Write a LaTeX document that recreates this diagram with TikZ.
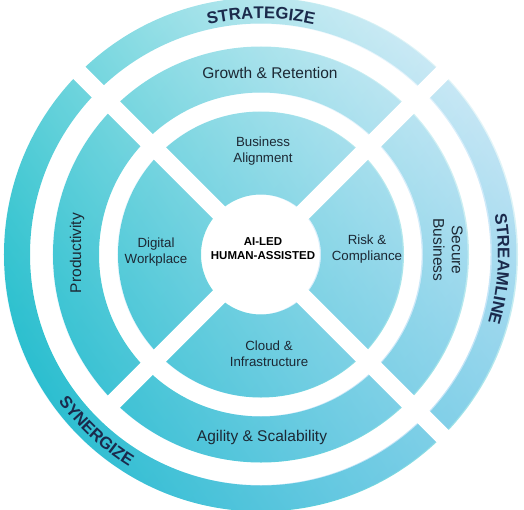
\documentclass[tikz,border=0pt]{standalone}
\usepackage{fontspec}
\setmainfont{Liberation Sans}
\usetikzlibrary{decorations.text,fadings}
\definecolor{ringteal}{RGB}{34,192,203}
\definecolor{ringmid}{RGB}{86,201,215}
\definecolor{ringlight}{RGB}{228,245,248}
\definecolor{ringblue}{RGB}{100,185,235}
\definecolor{labelink}{RGB}{28,40,52}
\definecolor{outerink}{RGB}{27,42,76}
\newcommand\ringfont{\fontsize{16.8}{18}\selectfont\bfseries}

\begin{document}
\begin{tikzpicture}[x=1pt,y=1pt,
    inner label/.style={text=labelink,font=\fontsize{13.3}{16}\selectfont,align=center},
    mid label/.style={text=labelink,font=\fontsize{15.5}{18.5}\selectfont,align=center},
    gap/.style={white,line width=17pt},
    ring text/.style={decorate,decoration={text along path,text align=center,text color=outerink}}]
    \def\rc{60}\def\ra{143}\def\rb{162}\def\rB{208}\def\rd{231}\def\rD{257}
    \def\rings{(0,0) circle (\rD) circle (\rd) circle (\rB) circle (\rb) circle (\ra) circle (\rc)}
    \useasboundingbox (-261,-254.5) rectangle (263,254.5);
    % three rings in one shading, blue tint to the lower right
    \shade[even odd rule,left color=ringteal,middle color=ringmid,right color=ringlight,shading angle=125] \rings;
    \fill[even odd rule,ringblue,fill opacity=0.42,path fading=west,fading angle=-45] \rings;
    % white cuts along the diagonals
    \foreach \a in {45,135,315} \draw[gap] (0,0) -- ({\a}:{\rD+6});
    \draw[gap] (0,0) -- (225:220);
    % outer ring words
    \path[ring text,decoration={text={|\ringfont|STRATEGIZE}}] (180:236) arc (180:0:236);
    \path[ring text,decoration={text={|\ringfont|STREAMLINE}}] (86.5:237) arc (86.5:-93.5:237);
    \path[ring text,decoration={text={|\ringfont|SYNERGIZE}}] (137:250) arc (137:317:250);
    % middle ring
    \node[mid label] (growth) at (9,182) {Growth \& Retention};
    \node[mid label] (agile) at (1,-182.5) {Agility \& Scalability};
    \node[mid label,rotate=90] (prod) at (-184,1.5) {Productivity};
    \node[mid label,rotate=-90] (secure) at (187,4.5) {Secure\\Business};
    % inner ring
    \node[inner label] (align) at (2,103.5) {Business\\Alignment};
    \node[inner label] (work) at (-105,2.5) {Digital\\Workplace};
    \node[inner label] (risk) at (106,5.5) {Risk \&\\Compliance};
    \node[inner label] (cloud) at (8,-99.5) {Cloud \&\\Infrastructure};
    \node[inner label,text=black,font=\fontsize{11.5}{14}\selectfont\bfseries] (core) at (2,5.5) {AI-LED\\HUMAN-ASSISTED};
\end{tikzpicture}
\end{document}
